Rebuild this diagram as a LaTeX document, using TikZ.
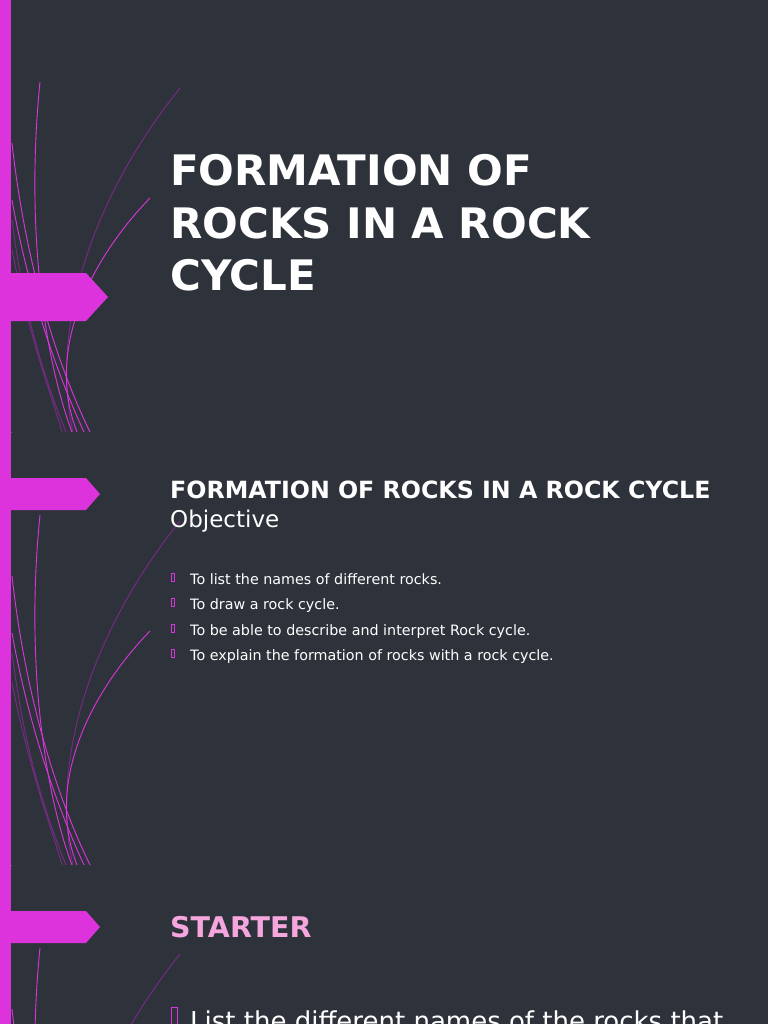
\documentclass[tikz,border=0pt]{standalone}
\usepackage{fontspec}
\setmainfont{DejaVu Sans}
\definecolor{bg}{HTML}{2E333B}
\definecolor{mag}{HTML}{DD33DD}
\definecolor{dmag}{HTML}{7A2A86}
\definecolor{pinkt}{HTML}{F5A6DC}
\begin{document}
\begin{tikzpicture}[x=1pt,y=-1pt,
  bright/.style={mag,line width=0.9pt},
  dim/.style={dmag,line width=0.9pt},
  txt/.style={white,anchor=base west,inner sep=0pt},
  bul/.style={mag,draw,line width=0.5pt}]
\fill[bg] (0,0) rectangle (768,1024);
\useasboundingbox (0,0) rectangle (768,1024);
\begin{scope}
\clip (0,0) rectangle (768,1024);
\foreach \o in {0,433,866}{
  \begin{scope}[shift={(0,\o)}]
  \clip (0,0) rectangle (200,432);
  \draw[dim] (180,88) .. controls (90,200) and (50,330) .. (73,432);
  \draw[dim] (12,220) .. controls (25,320) and (45,380) .. (66,432);
  \draw[dim] (12,250) .. controls (30,340) and (50,390) .. (62,432);
  \draw[bright] (40,82) .. controls (25,230) and (45,360) .. (72,432);
  \draw[bright] (12,143) .. controls (25,260) and (55,360) .. (90,432);
  \draw[bright] (150,198) .. controls (90,260) and (45,350) .. (77,432);
  \draw[bright] (12,200) .. controls (30,300) and (60,380) .. (84,432);
  \end{scope}
  \draw[black!60,line width=0.4pt] (0,\o+432.5) -- (12,\o+432.5);
}
\end{scope}
\fill[mag] (0,0) rectangle (11,1024);
\fill[mag] (0,273) -- (86,273) -- (108,297) -- (86,321) -- (0,321) -- cycle;
\fill[mag] (0,478) -- (86,478) -- (100,494) -- (86,510) -- (0,510) -- cycle;
\fill[mag] (0,911) -- (86,911) -- (100,927) -- (86,943) -- (0,943) -- cycle;
% slide 1
\node[txt,font=\bfseries\fontsize{42}{52}\selectfont] (t1) at (170,186) {FORMATION OF};
\node[txt,font=\bfseries\fontsize{42}{52}\selectfont] (t2) at (170,238) {ROCKS IN A ROCK};
\node[txt,font=\bfseries\fontsize{42}{52}\selectfont] (t3) at (170,290) {CYCLE};
% slide 2
\node[txt,font=\bfseries\fontsize{23.7}{27}\selectfont] (s2) at (170,498) {FORMATION OF ROCKS IN A ROCK CYCLE};
\node[txt,font=\fontsize{23}{27}\selectfont] (ob) at (170,527) {Objective};
\foreach \yy/\tt in {584/{To list the names of different rocks.},609/{To draw a rock cycle.},635/{To be able to describe and interpret Rock cycle.},660/{To explain the formation of rocks with a rock cycle.}}{
  \draw[bul] (171,\yy-11) rectangle (174,\yy-3);
  \node[txt,font=\fontsize{14.3}{17}\selectfont] at (190,\yy) {\tt};
}
% slide 3
\node[txt,pinkt,font=\bfseries\fontsize{28.5}{34}\selectfont] (st) at (170,937) {STARTER};
\draw[bul] (171,1007) rectangle (177,1024);
\node[txt,font=\fontsize{26}{31}\selectfont] (l1) at (190,1030) {List the different names of the rocks that};
\end{tikzpicture}
\end{document}
